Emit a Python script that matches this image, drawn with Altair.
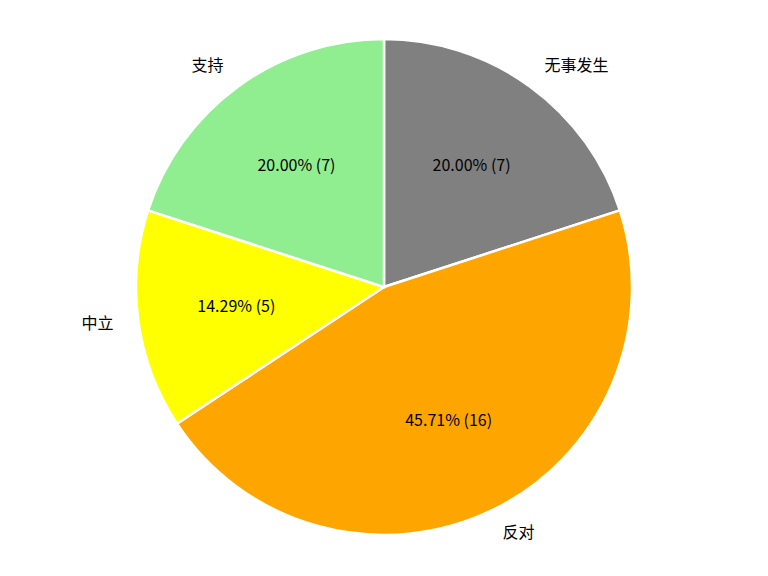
import altair as alt
import pandas as pd

categories = ["无事发生", "反对", "中立", "支持"]
counts = [7, 16, 5, 7]
colors = ["#808080", "#FFA500", "#FFFF00", "#90EE90"]

total = sum(counts)
rows = []
cum = 0
for i, (c, n) in enumerate(zip(categories, counts)):
    mid = (cum + n / 2) / total
    cum += n
    right = mid < 0.5
    rows.append({
        "idx": i,
        "cat": c,
        "count": n,
        "pct": f"{n / total * 100:.2f}% ({n})",
        "lab_r": c if right else "",
        "lab_l": "" if right else c,
    })
df = pd.DataFrame(rows)

FONT = "Noto Sans CJK SC"
FS = 16

base = alt.Chart(df).encode(
    theta=alt.Theta("count:Q", stack=True),
    order=alt.Order("idx:Q"),
)

pie = base.mark_arc(radius=248, stroke="white", strokeWidth=2.5).encode(
    color=alt.Color("cat:N", scale=alt.Scale(domain=categories, range=colors), legend=None)
)

pct = base.mark_text(radius=149, font=FONT, fontSize=FS, color="black",
                     align="center", baseline="middle").encode(
    text="pct:N", detail="cat:N"
)

lab_r = base.mark_text(radius=273, font=FONT, fontSize=FS, color="black",
                       align="left", baseline="middle").encode(
    text="lab_r:N", detail="cat:N"
)
lab_l = base.mark_text(radius=273, font=FONT, fontSize=FS, color="black",
                       align="right", baseline="middle").encode(
    text="lab_l:N", detail="cat:N"
)

chart = alt.layer(pie, pct, lab_r, lab_l).properties(
    width=752, height=558, padding=0, autosize="none"
).configure_view(stroke=None)

chart.save("out.html", embed_options={"renderer": "svg", "actions": False})
